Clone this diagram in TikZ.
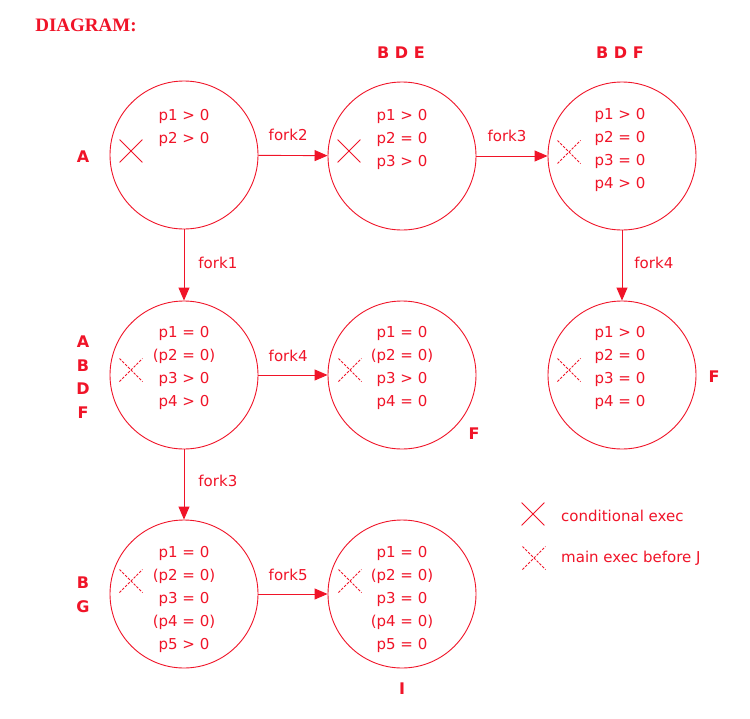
\documentclass[tikz,border=0pt]{standalone}
\usepackage{fontspec}
\setmainfont{DejaVu Sans}
\newfontfamily\titlefont{Liberation Serif}
\usetikzlibrary{arrows.meta,shapes.misc}
\definecolor{dred}{RGB}{240,20,40}
\begin{document}
\begin{tikzpicture}[x=1pt,y=-1pt,
  every node/.style={text=dred, inner sep=0pt},
  state/.style={circle, draw=dred, line width=0.9pt, minimum size=148pt},
  txt/.style={align=center, font=\fontsize{15}{23}\selectfont},
  lbl/.style={align=center, font=\bfseries\fontsize{16}{23.5}\selectfont},
  forklbl/.style={font=\fontsize{15}{18}\selectfont},
  condx/.style={cross out, draw=dred, line width=0.8pt, minimum width=22pt, minimum height=22pt},
  mainx/.style={condx, line width=1pt, dash pattern=on 2.5pt off 1.5pt},
  arr/.style={draw=dred, line width=0.9pt, -{Triangle[length=13pt,width=11pt]}}]
\fill[white] (0,0) rectangle (750,718);
\useasboundingbox (0,0) rectangle (750,718);

\node[font=\titlefont\bfseries\fontsize{19}{22}\selectfont] (title) at (86,25) {DIAGRAM:};

% states
\node[state] (s1) at (184,155) {};
\node[state] (s2) at (402,156) {};
\node[state] (s3) at (622,156) {};
\node[state] (s4) at (184,375) {};
\node[state] (s5) at (402,375) {};
\node[state] (s6) at (622,375) {};
\node[state] (s7) at (184,594) {};
\node[state] (s8) at (402,594) {};

% state texts
\node[txt] (t1) at (184,128) {p1 > 0\\p2 > 0};
\node[txt] (t2) at (402,139) {p1 > 0\\p2 = 0\\p3 > 0};
\node[txt] (t3) at (620,150) {p1 > 0\\p2 = 0\\p3 = 0\\p4 > 0};
\node[txt] (t4) at (184,368) {p1 = 0\\(p2 = 0)\\p3 > 0\\p4 > 0};
\node[txt] (t5) at (402,368) {p1 = 0\\(p2 = 0)\\p3 > 0\\p4 = 0};
\node[txt] (t6) at (620,368) {p1 > 0\\p2 = 0\\p3 = 0\\p4 = 0};
\node[txt] (t7) at (184,599) {p1 = 0\\(p2 = 0)\\p3 = 0\\(p4 = 0)\\p5 > 0};
\node[txt] (t8) at (402,599) {p1 = 0\\(p2 = 0)\\p3 = 0\\(p4 = 0)\\p5 = 0};

% crosses
\node[condx] (x1) at (131,151) {};
\node[condx] (x2) at (349,151) {};
\node[mainx] (x3) at (569,152) {};
\node[mainx] (x4) at (131,370) {};
\node[mainx] (x5) at (350,370) {};
\node[mainx] (x6) at (569,370) {};
\node[mainx] (x7) at (131,581) {};
\node[mainx] (x8) at (350,581) {};

% side labels
\node[lbl] (lA) at (83,157) {A};
\node[lbl] (lBDE) at (401,53) {B D E};
\node[lbl] (lBDF) at (620,53) {B D F};
\node[lbl] (lABDF) at (83,377) {A\\B\\D\\F};
\node[lbl] (lF1) at (474,434) {F};
\node[lbl] (lF2) at (714,377) {F};
\node[lbl] (lBG) at (83,595) {B\\G};
\node[lbl] (lI) at (402,689) {I};

% connectors
\draw[arr] (s1) -- (s2) node[forklbl, pos=0.43, above=14pt] (f2) {fork2};
\draw[arr] (s2) -- (s3) node[forklbl, pos=0.43, above=14pt] (f3a) {fork3};
\draw[arr] (s1) -- (s4) node[forklbl, pos=0.47, right=14pt] (f1) {fork1};
\draw[arr] (s3) -- (s6) node[forklbl, pos=0.47, right=12pt] (f4a) {fork4};
\draw[arr] (s4) -- (s5) node[forklbl, pos=0.43, above=13pt] (f4b) {fork4};
\draw[arr] (s4) -- (s7) node[forklbl, pos=0.45, right=14pt] (f3b) {fork3};
\draw[arr] (s7) -- (s8) node[forklbl, pos=0.43, above=13pt] (f5) {fork5};

% legend
\node[condx] (lx1) at (533,514) {};
\node[mainx] (lx2) at (534,558) {};
\node[forklbl, anchor=west] (lt1) at (561,516) {conditional exec};
\node[forklbl, anchor=west] (lt2) at (561,558) {main exec before J};
\end{tikzpicture}
\end{document}
